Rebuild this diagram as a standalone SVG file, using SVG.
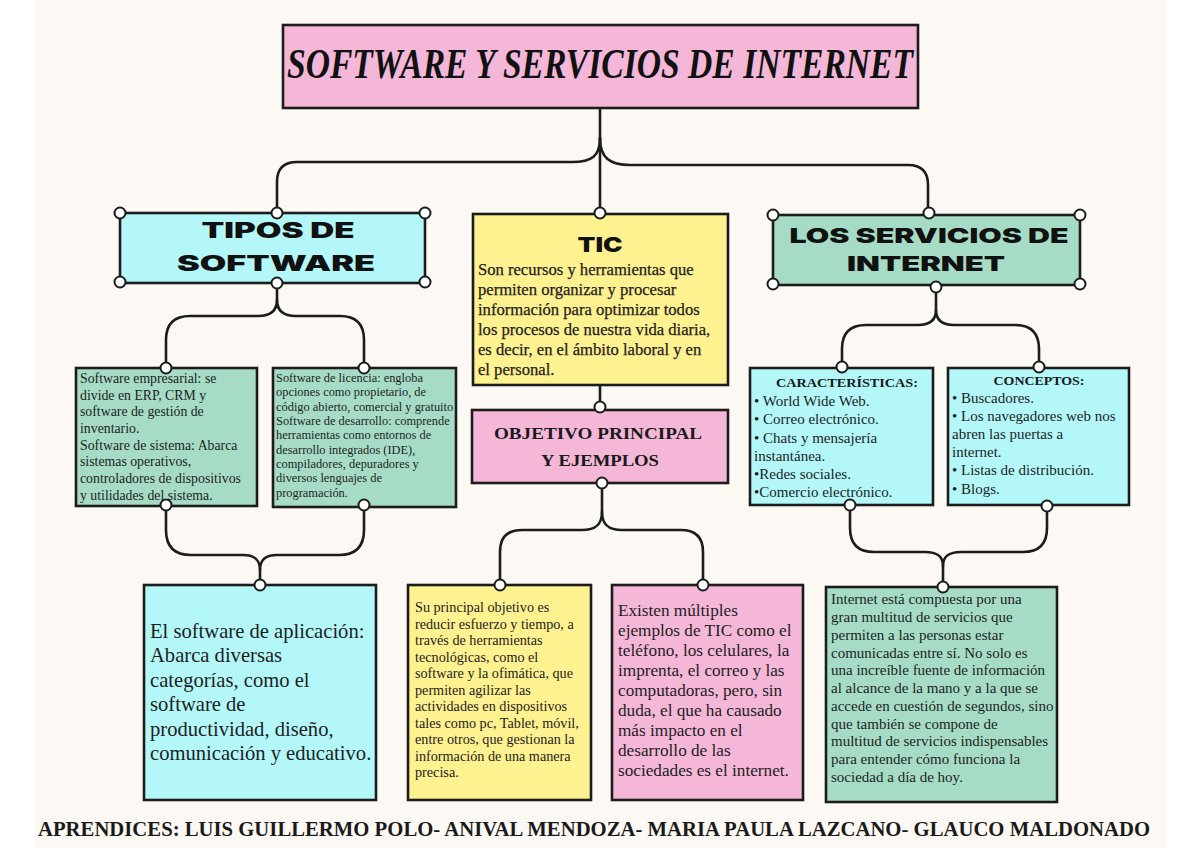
<svg xmlns="http://www.w3.org/2000/svg" width="1200" height="848" viewBox="0 0 1200 848">
<style>
.bx{stroke:#1c1c1c;stroke-width:2.6}
.pink{fill:#f4b7d7}.cyan{fill:#b3f7f8}.green{fill:#a6dcc6}.yellow{fill:#fef190}
.port{fill:#ffffff;stroke:#1c1c1c;stroke-width:2}
.con{fill:none;stroke:#1c1c1c;stroke-width:2.6;stroke-linecap:round}
.head{font-family:Inter,"Open Sans","DejaVu Sans",sans-serif;font-weight:900;fill:#111}
.serif{font-family:"Liberation Serif","DejaVu Serif",serif;fill:#1e1e1e}
.sb{font-family:"Liberation Serif","DejaVu Serif",serif;font-weight:bold;fill:#1a1a1a}
</style>
<rect x="0" y="0" width="1200" height="848" fill="#ffffff"/>
<rect x="35" y="0" width="1131" height="848" fill="#fcf9f4"/>

<g id="connectors">
<path class="con" d="M600,108 V213"/>
<path class="con" d="M600,138 C600,156 592,162 572,162 H297 Q277,162 277,182 V213"/>
<path class="con" d="M600,138 C600,158 610,165 630,165 H908 Q928,165 928,185 V213"/>
<path class="con" d="M277,283 V300 C277,311 270,316 258,316 H190 Q166,316 166,340 V368"/>
<path class="con" d="M277,300 C277,311 284,316 296,316 H340 Q364,316 364,340 V368"/>
<path class="con" d="M166,505 V530 Q166,555 191,555 H243 C254,555 260,559 260,570 V585"/>
<path class="con" d="M364,505 V530 Q364,555 339,555 H277 C266,555 260,559 260,570"/>
<path class="con" d="M600,385 V410"/>
<path class="con" d="M602,483 V512 C602,525 595,530 582,530 H522 Q500,530 500,552 V585"/>
<path class="con" d="M602,512 C602,525 609,530 622,530 H681 Q703,530 703,552 V585"/>
<path class="con" d="M936,287 V310 C936,320 930,325 918,325 H866 Q842,325 842,349 V368"/>
<path class="con" d="M936,310 C936,320 942,325 954,325 H1015 Q1039,325 1039,349 V368"/>
<path class="con" d="M850,505 V528 Q850,552 874,552 H925 C937,552 943,556 943,566 V587"/>
<path class="con" d="M1047,506 V528 Q1047,552 1023,552 H961 C949,552 943,556 943,566"/>
</g>

<g id="title">
<rect class="bx pink" x="283" y="25" width="635" height="83" stroke-width="2.2"/>
<text x="600" y="78" text-anchor="middle" font-family="Liberation Serif,serif" font-weight="bold" font-style="italic" font-size="42" fill="#111" textLength="626" lengthAdjust="spacingAndGlyphs">SOFTWARE Y SERVICIOS DE INTERNET</text>
</g>

<g id="tipos">
<rect class="bx cyan" x="120" y="213" width="305" height="70" stroke-width="3"/>
<text class="head" x="278" y="238" text-anchor="middle" font-size="21" textLength="153" lengthAdjust="spacingAndGlyphs">TIPOS DE</text>
<text class="head" x="276" y="271" text-anchor="middle" font-size="21" textLength="198" lengthAdjust="spacingAndGlyphs">SOFTWARE</text>
<circle class="port" cx="120" cy="213" r="5.5"/><circle class="port" cx="425" cy="213" r="5.5"/>
<circle class="port" cx="120" cy="282" r="5.5"/><circle class="port" cx="425" cy="282" r="5.5"/>
<circle class="port" cx="277" cy="213" r="5.5"/><circle class="port" cx="277" cy="283" r="5.5"/>
</g>

<g id="tic">
<rect class="bx yellow" x="473" y="214" width="255" height="171"/>
<circle class="port" cx="600" cy="213" r="5.5"/>
<text class="head" x="600" y="252" text-anchor="middle" font-size="20" textLength="45" lengthAdjust="spacingAndGlyphs">TIC</text>
<text class="serif" font-size="16.6" stroke="#1e1e1e" stroke-width="0.25">
<tspan x="478" y="275">Son recursos y herramientas que</tspan>
<tspan x="478" y="295">permiten organizar y procesar</tspan>
<tspan x="478" y="315">información para optimizar todos</tspan>
<tspan x="478" y="335">los procesos de nuestra vida diaria,</tspan>
<tspan x="478" y="355">es decir, en el ámbito laboral y en</tspan>
<tspan x="478" y="375">el personal.</tspan>
</text>
</g>

<g id="servicios">
<rect class="bx green" x="773" y="215" width="307" height="70" stroke-width="3"/>
<text class="head" x="929" y="243" text-anchor="middle" font-size="20" textLength="279" lengthAdjust="spacingAndGlyphs">LOS SERVICIOS DE</text>
<text class="head" x="926" y="271" text-anchor="middle" font-size="20" textLength="158" lengthAdjust="spacingAndGlyphs">INTERNET</text>
<circle class="port" cx="773" cy="215" r="5.5"/><circle class="port" cx="1080" cy="215" r="5.5"/>
<circle class="port" cx="773" cy="284" r="5.5"/><circle class="port" cx="1080" cy="284" r="5.5"/>
<circle class="port" cx="929" cy="213" r="5.5"/><circle class="port" cx="936" cy="287" r="5.5"/>
</g>

<g id="empresarial">
<rect class="bx green" x="76" y="368" width="181" height="138"/>
<text class="serif" font-size="13.8">
<tspan x="80" y="383">Software empresarial: se</tspan>
<tspan x="80" y="400">divide en ERP, CRM y</tspan>
<tspan x="80" y="416">software de gestión de</tspan>
<tspan x="80" y="433">inventario.</tspan>
<tspan x="80" y="450">Software de sistema: Abarca</tspan>
<tspan x="80" y="466">sistemas operativos,</tspan>
<tspan x="80" y="483">controladores de dispositivos</tspan>
<tspan x="80" y="500">y utilidades del sistema.</tspan>
</text>
<circle class="port" cx="166" cy="368" r="5.5"/><circle class="port" cx="166" cy="505" r="5.5"/>
</g>

<g id="licencia">
<rect class="bx green" x="273" y="368" width="183" height="139"/>
<text class="serif" font-size="12.4">
<tspan x="276" y="382">Software de licencia: engloba</tspan>
<tspan x="276" y="396">opciones como propietario, de</tspan>
<tspan x="276" y="411">código abierto, comercial y gratuito</tspan>
<tspan x="276" y="425">Software de desarrollo: comprende</tspan>
<tspan x="276" y="439">herramientas como entornos de</tspan>
<tspan x="276" y="454">desarrollo integrados (IDE),</tspan>
<tspan x="276" y="468">compiladores, depuradores y</tspan>
<tspan x="276" y="482">diversos lenguajes de</tspan>
<tspan x="276" y="497">programación.</tspan>
</text>
<circle class="port" cx="364" cy="368" r="5.5"/><circle class="port" cx="364" cy="505" r="5.5"/>
</g>

<g id="objetivo">
<rect class="bx pink" x="472" y="410" width="256" height="73"/>
<text class="sb" x="598" y="439" text-anchor="middle" font-size="16.5" textLength="208" lengthAdjust="spacingAndGlyphs">OBJETIVO PRINCIPAL</text>
<text class="sb" x="600" y="466" text-anchor="middle" font-size="16.5" textLength="118" lengthAdjust="spacingAndGlyphs">Y EJEMPLOS</text>
<circle class="port" cx="600" cy="407" r="5.5"/><circle class="port" cx="602" cy="483" r="5.5"/>
</g>

<g id="caracteristicas">
<rect class="bx cyan" x="750" y="368" width="183" height="137"/>
<text class="sb" x="847" y="387" text-anchor="middle" font-size="12.5" textLength="142" lengthAdjust="spacingAndGlyphs">CARACTERÍSTICAS:</text>
<text class="serif" font-size="15">
<tspan x="754" y="406">• World Wide Web.</tspan>
<tspan x="754" y="424">• Correo electrónico.</tspan>
<tspan x="754" y="443">• Chats y mensajería</tspan>
<tspan x="754" y="461">instantánea.</tspan>
<tspan x="754" y="479">•Redes sociales.</tspan>
<tspan x="754" y="497">•Comercio electrónico.</tspan>
</text>
<circle class="port" cx="842" cy="367" r="5.5"/><circle class="port" cx="850" cy="505" r="5.5"/>
</g>

<g id="conceptos">
<rect class="bx cyan" x="948" y="368" width="181" height="137"/>
<text class="sb" x="1039" y="385" text-anchor="middle" font-size="12.5" textLength="91" lengthAdjust="spacingAndGlyphs">CONCEPTOS:</text>
<text class="serif" font-size="15">
<tspan x="952" y="403">• Buscadores.</tspan>
<tspan x="952" y="421">• Los navegadores web nos</tspan>
<tspan x="952" y="439">abren las puertas a</tspan>
<tspan x="952" y="457">internet.</tspan>
<tspan x="952" y="475">• Listas de distribución.</tspan>
<tspan x="952" y="494">• Blogs.</tspan>
</text>
<circle class="port" cx="1039" cy="367" r="5.5"/><circle class="port" cx="1047" cy="506" r="5.5"/>
</g>

<g id="aplicacion">
<rect class="bx cyan" x="144" y="585" width="232" height="215"/>
<text class="serif" font-size="20.6">
<tspan x="150" y="638">El software de aplicación:</tspan>
<tspan x="150" y="662">Abarca diversas</tspan>
<tspan x="150" y="687">categorías, como el</tspan>
<tspan x="150" y="711">software de</tspan>
<tspan x="150" y="736">productividad, diseño,</tspan>
<tspan x="150" y="760">comunicación y educativo.</tspan>
</text>
<circle class="port" cx="260" cy="585" r="5.5"/>
</g>

<g id="objetivo-texto">
<rect class="bx yellow" x="408" y="585" width="183" height="215"/>
<text class="serif" font-size="14.2">
<tspan x="415" y="612">Su principal objetivo es</tspan>
<tspan x="415" y="629">reducir esfuerzo y tiempo, a</tspan>
<tspan x="415" y="645">través de herramientas</tspan>
<tspan x="415" y="662">tecnológicas, como el</tspan>
<tspan x="415" y="678">software y la ofimática, que</tspan>
<tspan x="415" y="695">permiten agilizar las</tspan>
<tspan x="415" y="711">actividades en dispositivos</tspan>
<tspan x="415" y="728">tales como pc, Tablet, móvil,</tspan>
<tspan x="415" y="744">entre otros, que gestionan la</tspan>
<tspan x="415" y="761">información de una manera</tspan>
<tspan x="415" y="777">precisa.</tspan>
</text>
<circle class="port" cx="500" cy="585" r="5.5"/>
</g>

<g id="ejemplos">
<rect class="bx pink" x="612" y="585" width="191" height="215"/>
<text class="serif" font-size="17.2">
<tspan x="618" y="616">Existen múltiples</tspan>
<tspan x="618" y="636">ejemplos de TIC como el</tspan>
<tspan x="618" y="656">teléfono, los celulares, la</tspan>
<tspan x="618" y="676">imprenta, el correo y las</tspan>
<tspan x="618" y="696">computadoras, pero, sin</tspan>
<tspan x="618" y="716">duda, el que ha causado</tspan>
<tspan x="618" y="736">más impacto en el</tspan>
<tspan x="618" y="756">desarrollo de las</tspan>
<tspan x="618" y="776">sociedades es el internet.</tspan>
</text>
<circle class="port" cx="703" cy="585" r="5.5"/>
</g>

<g id="internet-texto">
<rect class="bx green" x="826" y="587" width="231" height="215"/>
<text class="serif" font-size="15">
<tspan x="831" y="604">Internet está compuesta por una</tspan>
<tspan x="831" y="622">gran multitud de servicios que</tspan>
<tspan x="831" y="640">permiten a las personas estar</tspan>
<tspan x="831" y="658">comunicadas entre sí. No solo es</tspan>
<tspan x="831" y="675">una increíble fuente de información</tspan>
<tspan x="831" y="693">al alcance de la mano y a la que se</tspan>
<tspan x="831" y="711">accede en cuestión de segundos, sino</tspan>
<tspan x="831" y="729">que también se compone de</tspan>
<tspan x="831" y="746">multitud de servicios indispensables</tspan>
<tspan x="831" y="764">para entender cómo funciona la</tspan>
<tspan x="831" y="782">sociedad a día de hoy.</tspan>
</text>
<circle class="port" cx="943" cy="587" r="5.5"/>
</g>

<g id="footer">
<text class="sb" x="38" y="836" font-size="20" textLength="1112" lengthAdjust="spacingAndGlyphs" fill="#111">APRENDICES: LUIS GUILLERMO POLO- ANIVAL MENDOZA- MARIA PAULA LAZCANO- GLAUCO MALDONADO</text>
</g>
</svg>
